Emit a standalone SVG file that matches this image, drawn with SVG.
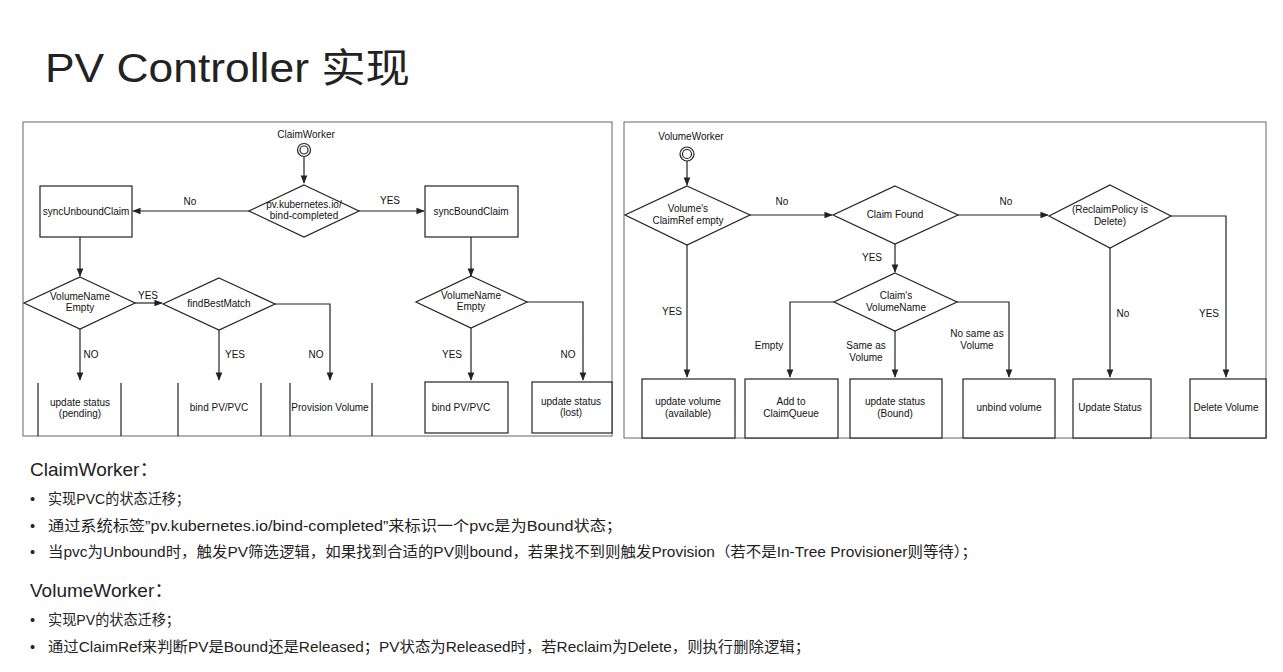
<svg xmlns="http://www.w3.org/2000/svg" width="1283" height="672" viewBox="0 0 1283 672">
<style>
.t{font-family:"Liberation Sans","Noto Sans CJK SC",sans-serif;font-size:10px;fill:#111;text-anchor:middle}
.b{fill:#fff;stroke:#222;stroke-width:1.2}
.l{fill:none;stroke:#222;stroke-width:1.2}
.c{stroke:#222;stroke-width:1.2;fill:none}
.f{fill:none;stroke:#666;stroke-width:1}
.h{font-family:"Liberation Sans","Noto Sans CJK SC",sans-serif;fill:#222}
.p{font-family:"Liberation Sans","Noto Sans CJK SC",sans-serif;font-size:14.5px;fill:#222}
</style>
<defs><marker id="a" viewBox="0 0 10 10" refX="9" refY="5" markerWidth="7" markerHeight="7" orient="auto"><path d="M0,1 L10,5 L0,9 z" fill="#222"/></marker></defs>
<rect width="1283" height="672" fill="#fff"/>
<text class="h" x="45" y="82" font-size="40" textLength="365" lengthAdjust="spacingAndGlyphs">PV Controller 实现</text>
<rect class="f" x="23" y="122" width="589" height="314"/>
<rect class="f" x="624" y="122" width="642" height="316"/>
<g id="connectors">
<path class="c" d="M304,157V183" marker-end="url(#a)"/>
<path class="c" d="M249,211H133" marker-end="url(#a)"/>
<path class="c" d="M359,211H424" marker-end="url(#a)"/>
<path class="c" d="M80,237V276" marker-end="url(#a)"/>
<path class="c" d="M135,303H162" marker-end="url(#a)"/>
<path class="c" d="M80,329V380" marker-end="url(#a)"/>
<path class="c" d="M219,330V380" marker-end="url(#a)"/>
<path class="c" d="M275,304H330V380" marker-end="url(#a)"/>
<path class="c" d="M471,237V276" marker-end="url(#a)"/>
<path class="c" d="M471,328V380" marker-end="url(#a)"/>
<path class="c" d="M527,302H583V380" marker-end="url(#a)"/>
<path class="c" d="M687,161V185" marker-end="url(#a)"/>
<path class="c" d="M750,215H832" marker-end="url(#a)"/>
<path class="c" d="M958,215H1048" marker-end="url(#a)"/>
<path class="c" d="M687,245V377" marker-end="url(#a)"/>
<path class="c" d="M895,244V272" marker-end="url(#a)"/>
<path class="c" d="M834,302H790V377" marker-end="url(#a)"/>
<path class="c" d="M895,331V377" marker-end="url(#a)"/>
<path class="c" d="M957,302H1009V377" marker-end="url(#a)"/>
<path class="c" d="M1110,248V377" marker-end="url(#a)"/>
<path class="c" d="M1171,216H1226V377" marker-end="url(#a)"/>
<text class="t" x="190" y="205">No</text>
<text class="t" x="390" y="204">YES</text>
<text class="t" x="148" y="299">YES</text>
<text class="t" x="91" y="358">NO</text>
<text class="t" x="235" y="358">YES</text>
<text class="t" x="316" y="358">NO</text>
<text class="t" x="452" y="358">YES</text>
<text class="t" x="568" y="358">NO</text>
<text class="t" x="782" y="205" font-size="12">No</text>
<text class="t" x="1006" y="205" font-size="12">No</text>
<text class="t" x="872" y="261">YES</text>
<text class="t" x="672" y="315">YES</text>
<text class="t" x="1123" y="317" font-size="12">No</text>
<text class="t" x="1209" y="317">YES</text>
<text class="t" x="769" y="349">Empty</text>
<text class="t" x="866" y="349">Same as</text>
<text class="t" x="866" y="361">Volume</text>
<text class="t" x="977" y="337">No same as</text>
<text class="t" x="977" y="349">Volume</text>
</g>
<g id="claimworker"><text class="t" x="306" y="138" font-size="12.5">ClaimWorker</text><circle cx="304" cy="150" r="6.5" class="b"/><circle cx="304" cy="150" r="4" class="l"/></g>
<g id="bindcompleted"><path class="b" d="M304,185L359,211L304,237L249,211z"/><text class="t" x="304" y="208" font-size="9">pv.kubernetes.io/</text><text class="t" x="304" y="219" font-size="9">bind-completed</text></g>
<g id="syncUnbound"><rect class="b" x="40" y="186" width="92" height="51"/><text class="t" x="86" y="215">syncUnboundClaim</text></g>
<g id="syncBound"><rect class="b" x="425" y="186" width="93" height="51"/><text class="t" x="471" y="215">syncBoundClaim</text></g>
<g id="vnEmpty1"><path class="b" d="M80,277L135,303L80,329L24,303z"/><text class="t" x="80" y="300" font-size="9.5">VolumeName</text><text class="t" x="80" y="311" font-size="9.5">Empty</text></g>
<g id="findBest"><path class="b" d="M219,278L275,304L219,330L163,304z"/><text class="t" x="219" y="307">findBestMatch</text></g>
<g id="vnEmpty2"><path class="b" d="M471,276L527,302L471,328L416,302z"/><text class="t" x="471" y="299" font-size="9.5">VolumeName</text><text class="t" x="471" y="310" font-size="9.5">Empty</text></g>
<g id="pending"><path class="l" d="M38,383V436M121,383V436"/><text class="t" x="80" y="406" font-size="9.5">update status</text><text class="t" x="80" y="417" font-size="9.5">(pending)</text></g>
<g id="bind1"><path class="l" d="M178,383V436M261,383V436" stroke="#555"/><text class="t" x="219" y="411">bind PV/PVC</text></g>
<g id="provision"><path class="l" d="M290,383V436M372,383V436" stroke="#aaa"/><text class="t" x="330" y="411" font-size="9.5">Provision Volume</text></g>
<g id="bind2"><rect class="b" x="425" y="382" width="83" height="51"/><text class="t" x="461" y="411">bind PV/PVC</text></g>
<g id="lost"><rect class="b" x="532" y="382" width="80" height="51"/><text class="t" x="571" y="405" font-size="9.5">update status</text><text class="t" x="571" y="416" font-size="9.5">(lost)</text></g>
<g id="volumeworker"><text class="t" x="691" y="140" font-size="13.5">VolumeWorker</text><circle cx="687" cy="154" r="7" class="b"/><circle cx="687" cy="154" r="4.5" class="l"/></g>
<g id="claimRefEmpty"><path class="b" d="M687,186L750,215L687,245L625,215z"/><text class="t" x="688" y="212">Volume's</text><text class="t" x="688" y="224">ClaimRef empty</text></g>
<g id="claimFound"><path class="b" d="M895,186L958,215L895,244L833,215z"/><text class="t" x="895" y="218">Claim Found</text></g>
<g id="reclaim"><path class="b" d="M1110,185L1171,216L1110,248L1049,216z"/><text class="t" x="1110" y="213">(ReclaimPolicy is</text><text class="t" x="1110" y="225">Delete)</text></g>
<g id="claimsVN"><path class="b" d="M895,273L957,302L895,331L834,302z"/><text class="t" x="896" y="299">Claim's</text><text class="t" x="896" y="311">VolumeName</text></g>
<g id="available"><rect class="b" x="642" y="379" width="93" height="59"/><text class="t" x="688" y="405">update volume</text><text class="t" x="688" y="417">(available)</text></g>
<g id="addQueue"><rect class="b" x="745" y="379" width="93" height="59"/><text class="t" x="791" y="405">Add to</text><text class="t" x="791" y="417">ClaimQueue</text></g>
<g id="bound"><rect class="b" x="850" y="379" width="92" height="59"/><text class="t" x="895" y="405">update status</text><text class="t" x="895" y="417">(Bound)</text></g>
<g id="unbind"><rect class="b" x="963" y="379" width="92" height="59"/><text class="t" x="1009" y="411">unbind volume</text></g>
<g id="updateStatus"><rect class="b" x="1073" y="379" width="78" height="59"/><text class="t" x="1110" y="411">Update Status</text></g>
<g id="deleteVolume"><rect class="b" x="1190" y="379" width="76" height="59"/><text class="t" x="1226" y="411">Delete Volume</text></g>
<text class="h" x="30" y="476" font-size="19">ClaimWorker：</text>
<text class="p" x="30" y="504">•</text><text class="p" x="48" y="504" textLength="142" lengthAdjust="spacingAndGlyphs">实现PVC的状态迁移；</text>
<text class="p" x="30" y="531">•</text><text class="p" x="48" y="531" textLength="574" lengthAdjust="spacingAndGlyphs">通过系统标签”pv.kubernetes.io/bind-completed”来标识一个pvc是为Bound状态；</text>
<text class="p" x="30" y="557">•</text><text class="p" x="48" y="557" textLength="929" lengthAdjust="spacingAndGlyphs">当pvc为Unbound时，触发PV筛选逻辑，如果找到合适的PV则bound，若果找不到则触发Provision（若不是In-Tree Provisioner则等待）；</text>
<text class="h" x="30" y="597" font-size="19">VolumeWorker：</text>
<text class="p" x="30" y="625">•</text><text class="p" x="48" y="625" textLength="132" lengthAdjust="spacingAndGlyphs">实现PV的状态迁移；</text>
<text class="p" x="30" y="652">•</text><text class="p" x="48" y="652" textLength="762" lengthAdjust="spacingAndGlyphs">通过ClaimRef来判断PV是Bound还是Released；PV状态为Released时，若Reclaim为Delete，则执行删除逻辑；</text>
</svg>
